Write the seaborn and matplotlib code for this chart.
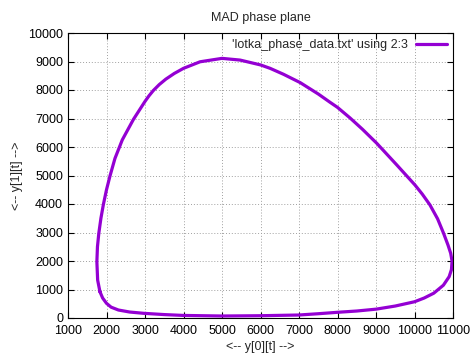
import matplotlib
matplotlib.use("Agg")
import matplotlib.pyplot as plt
import seaborn as sns
import pandas as pd

prey = [1830, 1770, 1750, 1765, 1800, 1855, 1920, 2000, 2090, 2220, 2410, 2700, 3000, 3100, 3215,
        3370, 3540, 3760, 4000, 4430, 5000, 5470, 6000, 6250, 6600, 7030, 7500, 7805, 8000, 8325,
        8650, 9020, 9540, 10010, 10200, 10400, 10600, 10750, 10870, 10940, 10975, 10960, 10900,
        10750, 10500, 10250, 10000, 9500, 9000, 8500, 8000, 7500, 7000, 6000, 5000, 4000, 3500,
        2960, 2600, 2310, 2120, 2000, 1900, 1830]
predator = [920, 1330, 1975, 2500, 2970, 3500, 3990, 4500, 4980, 5600, 6250, 6970, 7600, 7790, 7980,
            8190, 8380, 8580, 8760, 8990, 9110, 9050, 8880, 8760, 8550, 8260, 7860, 7570, 7390, 7020,
            6620, 6130, 5370, 4670, 4350, 3970, 3480, 2990, 2560, 2270, 2000, 1700, 1450,
            1150, 870, 700, 570, 420, 310, 245, 200, 150, 105, 80, 70, 90, 120,
            165, 210, 280, 380, 515, 700, 920]

df = pd.DataFrame({"x": prey, "y": predator})

sns.set_theme(style="white")
plt.rcParams['font.family'] = ['Liberation Sans', 'DejaVu Sans']

fig = plt.figure(figsize=(4.74, 3.55), dpi=100)
ax = fig.add_axes([68/474, 1-318/355, (453-68)/474, (318-33)/355])

sns.lineplot(data=df, x="x", y="y", sort=False, estimator=None, color="#9400D3",
             linewidth=2.3, ax=ax, label="'lotka_phase_data.txt' using 2:3")
ax.lines[0].set_solid_joinstyle("round")

ax.set_xlim(1000, 11000)
ax.set_ylim(0, 10000)
ax.set_xticks(range(1000, 11001, 1000))
ax.set_yticks(range(0, 10001, 1000))
ax.grid(True, color="#a0a0a0", linestyle=(0, (1, 2)), linewidth=0.7)
for s in ax.spines.values():
    s.set_color("black")
    s.set_linewidth(0.8)
ax.tick_params(direction="in", length=4, width=0.8, labelsize=9, top=True, right=True,
               bottom=True, left=True, labeltop=False, labelright=False, colors="black")
ax.tick_params(axis="x", pad=5)
ax.set_xlabel("<-- y[0][t] -->", fontsize=9, labelpad=3)
ax.set_ylabel("<-- y[1][t] -->", fontsize=9)
ax.set_title("MAD phase plane", fontsize=9, pad=9)
leg = ax.legend(loc="upper right", frameon=False, markerfirst=False, fontsize=9,
                handlelength=2.5, borderaxespad=0.1, handletextpad=0.6)
fig.savefig("out.png", dpi=100)
